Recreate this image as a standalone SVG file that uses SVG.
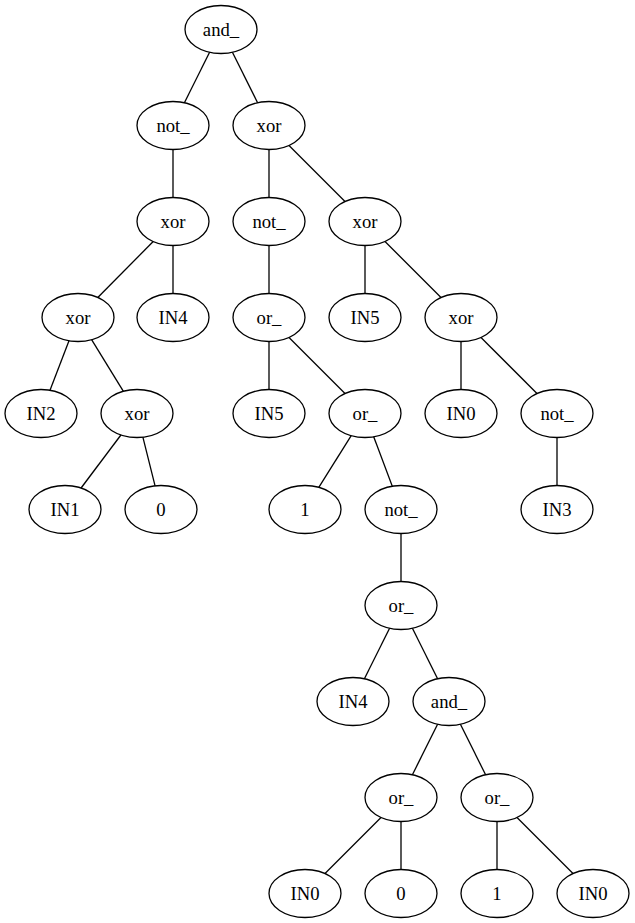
<svg xmlns="http://www.w3.org/2000/svg" width="635" height="923" viewBox="0 0 635 923">
<style>
ellipse{fill:none;stroke:#000;stroke-width:1.3}
text{font-family:"Liberation Serif","Times New Roman",serif;font-size:18.67px;text-anchor:middle;fill:#000}
#edges line{stroke:#000;stroke-width:1.3}
</style>
<rect width="635" height="923" fill="#fff"/>
<g id="edges">
<line x1="209.6" y1="52.3" x2="184.4" y2="102.7"/>
<line x1="232.4" y1="52.3" x2="257.6" y2="102.7"/>
<line x1="173" y1="149.5" x2="173" y2="197.5"/>
<line x1="269" y1="149.5" x2="269" y2="197.5"/>
<line x1="289" y1="145.5" x2="345" y2="201.5"/>
<line x1="153.2" y1="241.5" x2="97.8" y2="297.5"/>
<line x1="173" y1="245.5" x2="173" y2="293.5"/>
<line x1="269" y1="245.5" x2="269" y2="293.5"/>
<line x1="365" y1="245.5" x2="365" y2="293.5"/>
<line x1="385" y1="241.5" x2="441" y2="297.5"/>
<line x1="69" y1="340.7" x2="50" y2="390.3"/>
<line x1="91.6" y1="339.7" x2="123.4" y2="391.3"/>
<line x1="269" y1="341.5" x2="269" y2="389.5"/>
<line x1="289" y1="337.5" x2="345" y2="393.5"/>
<line x1="461" y1="341.5" x2="461" y2="389.5"/>
<line x1="481" y1="337.5" x2="537" y2="393.5"/>
<line x1="120.9" y1="435" x2="81.1" y2="488"/>
<line x1="142.9" y1="437.2" x2="155.1" y2="485.8"/>
<line x1="351.2" y1="435.7" x2="318.8" y2="487.3"/>
<line x1="373.7" y1="436.8" x2="392.3" y2="486.2"/>
<line x1="557" y1="437.5" x2="557" y2="485.5"/>
<line x1="401" y1="533.5" x2="401" y2="581.5"/>
<line x1="389.6" y1="628.3" x2="364.4" y2="678.7"/>
<line x1="412.4" y1="628.3" x2="437.6" y2="678.7"/>
<line x1="437.6" y1="724.3" x2="412.4" y2="774.7"/>
<line x1="460.4" y1="724.3" x2="485.6" y2="774.7"/>
<line x1="381" y1="817.5" x2="325" y2="873.5"/>
<line x1="401" y1="821.5" x2="401" y2="869.5"/>
<line x1="497" y1="821.5" x2="497" y2="869.5"/>
<line x1="517" y1="817.5" x2="573" y2="873.5"/>
</g>
<g id="n0"><ellipse cx="221" cy="29.5" rx="36" ry="24"/><text x="221" y="35.5">and_</text></g>
<g id="n1"><ellipse cx="173" cy="125.5" rx="36" ry="24"/><text x="173" y="131.5">not_</text></g>
<g id="n2"><ellipse cx="269" cy="125.5" rx="36" ry="24"/><text x="269" y="131.5">xor</text></g>
<g id="n3"><ellipse cx="173" cy="221.5" rx="36" ry="24"/><text x="173" y="227.5">xor</text></g>
<g id="n4"><ellipse cx="269" cy="221.5" rx="36" ry="24"/><text x="269" y="227.5">not_</text></g>
<g id="n5"><ellipse cx="365" cy="221.5" rx="36" ry="24"/><text x="365" y="227.5">xor</text></g>
<g id="n6"><ellipse cx="78" cy="317.5" rx="36" ry="24"/><text x="78" y="323.5">xor</text></g>
<g id="n7"><ellipse cx="173" cy="317.5" rx="36" ry="24"/><text x="173" y="323.5">IN4</text></g>
<g id="n8"><ellipse cx="269" cy="317.5" rx="36" ry="24"/><text x="269" y="323.5">or_</text></g>
<g id="n9"><ellipse cx="365" cy="317.5" rx="36" ry="24"/><text x="365" y="323.5">IN5</text></g>
<g id="n10"><ellipse cx="461" cy="317.5" rx="36" ry="24"/><text x="461" y="323.5">xor</text></g>
<g id="n11"><ellipse cx="41" cy="413.5" rx="36" ry="24"/><text x="41" y="419.5">IN2</text></g>
<g id="n12"><ellipse cx="137" cy="413.5" rx="36" ry="24"/><text x="137" y="419.5">xor</text></g>
<g id="n13"><ellipse cx="269" cy="413.5" rx="36" ry="24"/><text x="269" y="419.5">IN5</text></g>
<g id="n14"><ellipse cx="365" cy="413.5" rx="36" ry="24"/><text x="365" y="419.5">or_</text></g>
<g id="n15"><ellipse cx="461" cy="413.5" rx="36" ry="24"/><text x="461" y="419.5">IN0</text></g>
<g id="n16"><ellipse cx="557" cy="413.5" rx="36" ry="24"/><text x="557" y="419.5">not_</text></g>
<g id="n17"><ellipse cx="65" cy="509.5" rx="36" ry="24"/><text x="65" y="515.5">IN1</text></g>
<g id="n18"><ellipse cx="161" cy="509.5" rx="36" ry="24"/><text x="161" y="515.5">0</text></g>
<g id="n19"><ellipse cx="305" cy="509.5" rx="36" ry="24"/><text x="305" y="515.5">1</text></g>
<g id="n20"><ellipse cx="401" cy="509.5" rx="36" ry="24"/><text x="401" y="515.5">not_</text></g>
<g id="n21"><ellipse cx="557" cy="509.5" rx="36" ry="24"/><text x="557" y="515.5">IN3</text></g>
<g id="n22"><ellipse cx="401" cy="605.5" rx="36" ry="24"/><text x="401" y="611.5">or_</text></g>
<g id="n23"><ellipse cx="353" cy="701.5" rx="36" ry="24"/><text x="353" y="707.5">IN4</text></g>
<g id="n24"><ellipse cx="449" cy="701.5" rx="36" ry="24"/><text x="449" y="707.5">and_</text></g>
<g id="n25"><ellipse cx="401" cy="797.5" rx="36" ry="24"/><text x="401" y="803.5">or_</text></g>
<g id="n26"><ellipse cx="497" cy="797.5" rx="36" ry="24"/><text x="497" y="803.5">or_</text></g>
<g id="n27"><ellipse cx="305" cy="893.5" rx="36" ry="24"/><text x="305" y="899.5">IN0</text></g>
<g id="n28"><ellipse cx="401" cy="893.5" rx="36" ry="24"/><text x="401" y="899.5">0</text></g>
<g id="n29"><ellipse cx="497" cy="893.5" rx="36" ry="24"/><text x="497" y="899.5">1</text></g>
<g id="n30"><ellipse cx="593" cy="893.5" rx="36" ry="24"/><text x="593" y="899.5">IN0</text></g>
</svg>
